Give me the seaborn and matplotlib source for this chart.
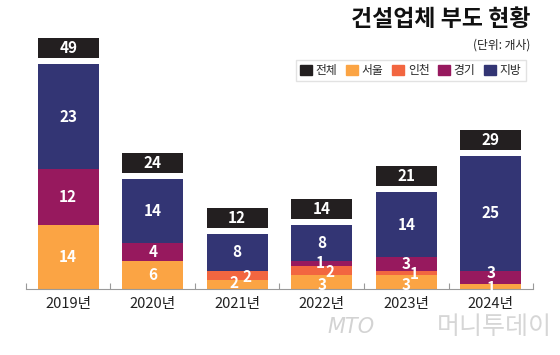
import numpy as np
import pandas as pd
import matplotlib.pyplot as plt
import seaborn as sns
from matplotlib.patches import Patch

# data (단위: 개사)
years = ['2019년', '2020년', '2021년', '2022년', '2023년', '2024년']
seoul = [14, 6, 2, 3, 3, 1]
incheon = [0, 0, 2, 2, 1, 0]
gyeonggi = [12, 4, 0, 1, 3, 3]
jibang = [23, 14, 8, 8, 14, 25]
totals = [49, 24, 12, 14, 21, 29]

layers = ['서울', '인천', '경기', '지방']
colors = {'전체': '#231F20', '서울': '#FBA444', '인천': '#F26640',
          '경기': '#97195E', '지방': '#333574'}

# label nudges for the tiny segments (dx in bar units, dy in values)
nudge = {
    (2, '서울'): (-0.04, 0.3), (2, '인천'): (0.11, -0.3),
    (3, '서울'): (0.0, -0.6), (3, '인천'): (0.1, -0.2),
    (3, '경기'): (-0.02, 0.1),
    (4, '서울'): (0.0, -0.6), (4, '인천'): (0.1, -0.2),
    (5, '서울'): (0.0, -0.2), (5, '경기'): (0.0, 1.0),
}

sns.set_theme(style='white')
num_font = ['Liberation Sans Narrow', 'Noto Sans CJK KR', 'DejaVu Sans']
plt.rcParams['font.family'] = ['Noto Sans CJK KR', 'DejaVu Sans']

fig = plt.figure(figsize=(5.6, 3.55), dpi=100)
ax = fig.add_axes([0.0464, 0.186, 0.9054, 0.777])

df = pd.DataFrame({'year': years, '서울': seoul, '인천': incheon,
                   '경기': gyeonggi, '지방': jibang})
cum = df[layers].cumsum(axis=1)

# stacked bars: draw cumulative heights from the top layer down
for name in reversed(layers):
    sns.barplot(x=df['year'], y=cum[name], color=colors[name], saturation=1,
                width=0.72, ax=ax, errorbar=None, linewidth=0)

# black total boxes above each bar
gap, box_h = 1.3, 4.35
tot = np.array(totals)
ax.bar(np.arange(len(years)), box_h, bottom=tot + gap, width=0.72,
       color=colors['전체'], linewidth=0)
for i, t in enumerate(totals):
    ax.text(i, t + gap + box_h / 2, str(t), ha='center', va='center',
            color='white', fontsize=11, weight='bold', family=num_font)

# segment labels
for i in range(len(years)):
    base = 0
    for name in layers:
        v = df.loc[i, name]
        if v > 0:
            dx, dy = nudge.get((i, name), (0, 0))
            ax.text(i + dx, base + v / 2 + dy, str(v), ha='center',
                    va='center', color='white', fontsize=11, weight='bold',
                    family=num_font)
        base += v

ax.set_xlim(-0.5, 5.5)
ax.set_ylim(0, 60)
ax.set_xlabel('')
ax.set_ylabel('')
ax.set_yticks([])
for s in ['top', 'right', 'left']:
    ax.spines[s].set_visible(False)
ax.spines['bottom'].set_color('#9a9a9a')
ax.spines['bottom'].set_linewidth(0.8)
ax.set_xticks(np.arange(-0.5, 6, 1), minor=True)
ax.tick_params(axis='x', which='major', length=0, pad=6, labelsize=10.5,
               labelcolor='#222222')
ax.tick_params(axis='x', which='minor', direction='in', length=4,
               color='#9a9a9a', width=0.8, bottom=True)
for lab in ax.get_xticklabels():
    lab.set_family(num_font)

# title, unit, legend
fig.text(0.947, 0.944, '건설업체 부도 현황', ha='right', va='center',
         fontsize=16.5, weight='bold', color='#111111')
fig.text(0.947, 0.873, '(단위: 개사)', ha='right', va='center',
         fontsize=8.5, color='#222222')
handles = [Patch(color=colors[k]) for k in ['전체'] + layers]
fig.legend(handles, ['전체'] + layers, loc='upper right',
           bbox_to_anchor=(0.949, 0.848), ncol=5, fontsize=8.5,
           handlelength=1.0, handleheight=1.0, handletextpad=0.35,
           columnspacing=0.7, borderpad=0.35, frameon=True, fancybox=False,
           edgecolor='#e2e2e2', framealpha=1)

# watermark
fig.text(0.585, 0.079, 'MTO', ha='left', va='center', fontsize=15,
         style='italic', color='#d3d3d3', family=['DejaVu Sans'])
fig.text(0.985, 0.079, '머니투데이', ha='right', va='center', fontsize=18,
         color='#d6d6d6')

fig.savefig('out.png', dpi=100)
